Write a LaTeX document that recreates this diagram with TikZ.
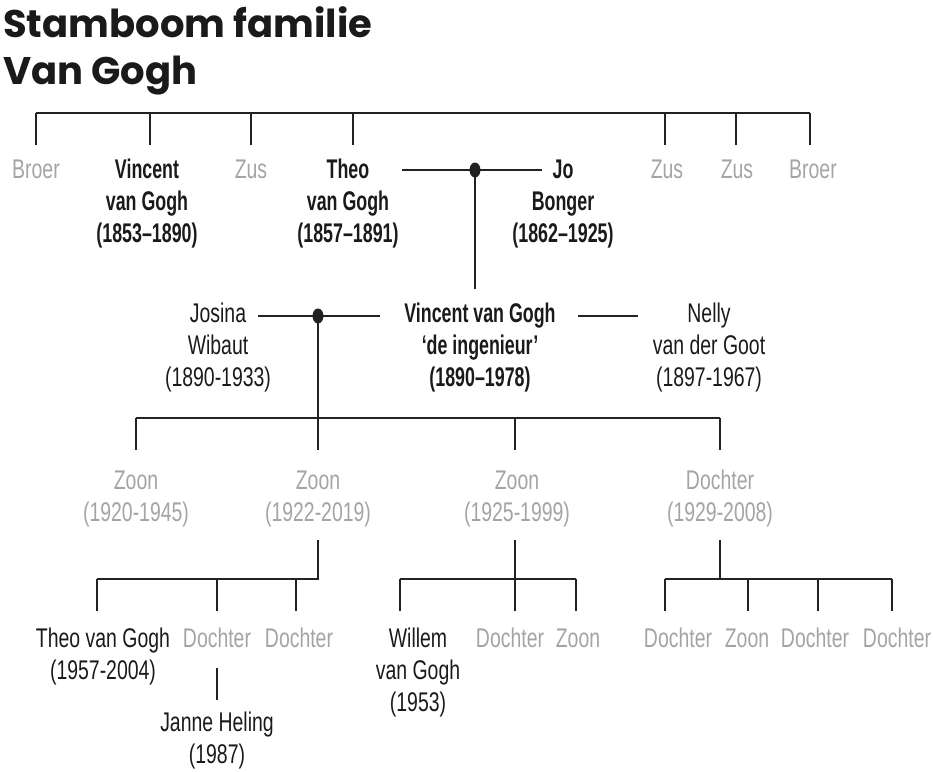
\documentclass[tikz,border=0pt]{standalone}
\usepackage{fontspec}
\newfontfamily\labf{Liberation Sans}[FakeStretch=0.72]
\newfontfamily\labbf{Liberation Sans}[FakeStretch=0.66]
\newfontfamily\titlef{Poppins}
\definecolor{ink}{HTML}{1A1A1A}
\definecolor{grey}{HTML}{A4A4A4}
\definecolor{linec}{HTML}{222222}
\tikzset{
  lbl/.style={font=\labf\fontsize{27}{32}\selectfont, align=center, inner sep=0pt, anchor=base, text=ink},
  gry/.style={lbl, text=grey},
  bld/.style={lbl, font=\labbf\bfseries\fontsize{27}{32}\selectfont},
  ttl/.style={font=\titlef\bfseries\fontsize{38.5}{48}\selectfont, inner sep=0pt, anchor=base west, text=ink, align=left},
  conn/.style={draw=linec, line width=1.8pt},
  knot/.style={fill=linec, draw=none}
}
\begin{document}
\begin{tikzpicture}[x=1pt,y=-1pt]
\useasboundingbox (0,0) rectangle (933,771);
% title (base anchor = baseline of the last line)
\node[ttl] (t1) at (3,37) {Stamboom familie};
\node[ttl] (t2) at (3,84) {Van Gogh};
% row 1 coordinates
\coordinate (tbL) at (36,113);
\coordinate (tbR) at (810,113);
\foreach \n/\x in {a/36,b/150,c/251,d/353,e/665,f/736,g/810}{
  \coordinate (top\n) at (\x,113);
  \coordinate (bot\n) at (\x,145);
}
\draw[conn] (tbL) -- (tbR);
\foreach \n in {a,b,c,d,e,f,g}{ \draw[conn] (top\n) -- (bot\n); }
% row 1 labels
\node[gry] (broer1) at (36,178) {Broer};
\node[bld] (vincent) at (147,242) {Vincent\\van Gogh\\(1853–1890)};
\node[gry] (zus1) at (251,178) {Zus};
\node[bld] (theo) at (348,242) {Theo\\van Gogh\\(1857–1891)};
\node[bld] (jo) at (563,242) {Jo\\Bonger\\(1862–1925)};
\node[gry] (zus2) at (667,178) {Zus};
\node[gry] (zus3) at (737,178) {Zus};
\node[gry] (broer2) at (813,178) {Broer};
% marriage Theo - Jo
\coordinate (m1L) at (402,170);
\coordinate (m1R) at (542,170);
\coordinate (m1) at (475,170);
\coordinate (m1D) at (475,289);
\draw[conn] (m1L) -- (m1R);
\draw[conn] (m1) -- (m1D);
\fill[knot] (m1) ellipse [x radius=5.5, y radius=7.5];
% row 2 labels
\node[lbl] (josina) at (218,386) {Josina\\Wibaut\\(1890-1933)};
\node[bld] (vincent2) at (480,386) {Vincent van Gogh\\‘de ingenieur’\\(1890–1978)};
\node[lbl] (nelly) at (709,386) {Nelly\\van der Goot\\(1897-1967)};
% marriages row 2
\coordinate (m2L) at (258,316);
\coordinate (m2R) at (380,316);
\coordinate (m2) at (318,316);
\coordinate (m3L) at (578,316);
\coordinate (m3R) at (638,316);
\draw[conn] (m2L) -- (m2R);
\draw[conn] (m3L) -- (m3R);
% children row 3
\coordinate (m2D) at (318,450);
\coordinate (cbL) at (136,418);
\coordinate (cbR) at (720,418);
\draw[conn] (m2) -- (m2D);
\draw[conn] (cbL) -- (cbR);
\foreach \n/\x in {a/136,c/515,d/720}{
  \coordinate (ct\n) at (\x,418);
  \coordinate (cb\n) at (\x,450);
  \draw[conn] (ct\n) -- (cb\n);
}
\fill[knot] (m2) ellipse [x radius=5.5, y radius=7.5];
\node[gry] (zoon1) at (136,521) {Zoon\\(1920-1945)};
\node[gry] (zoon2) at (318,521) {Zoon\\(1922-2019)};
\node[gry] (zoon3) at (517,521) {Zoon\\(1925-1999)};
\node[gry] (dochter1) at (720,521) {Dochter\\(1929-2008)};
% row 4 branch A
\coordinate (aT) at (318,540);
\coordinate (aC) at (318,579);
\coordinate (aL) at (97,579);
\draw[conn] (aT) -- (aC) -- (aL);
\foreach \n/\x in {1/97,2/217,3/296}{
  \coordinate (a\n t) at (\x,579);
  \coordinate (a\n b) at (\x,611);
  \draw[conn] (a\n t) -- (a\n b);
}
% branch B
\coordinate (bT) at (515,540);
\coordinate (bB) at (515,611);
\coordinate (bL) at (400,579);
\coordinate (bR) at (576,579);
\draw[conn] (bT) -- (bB);
\draw[conn] (bL) -- (bR);
\foreach \n/\x in {1/400,3/576}{
  \coordinate (b\n t) at (\x,579);
  \coordinate (b\n b) at (\x,611);
  \draw[conn] (b\n t) -- (b\n b);
}
% branch C
\coordinate (cT) at (720,540);
\coordinate (cC) at (720,579);
\coordinate (cL) at (665,579);
\coordinate (cR) at (892,579);
\draw[conn] (cT) -- (cC);
\draw[conn] (cL) -- (cR);
\foreach \n/\x in {1/665,2/748,3/818,4/892}{
  \coordinate (c\n t) at (\x,579);
  \coordinate (c\n b) at (\x,611);
  \draw[conn] (c\n t) -- (c\n b);
}
% row 4 labels
\node[lbl] (theo2) at (103,679) {Theo van Gogh\\(1957-2004)};
\node[gry] (d2) at (217,647) {Dochter};
\node[gry] (d3) at (299,647) {Dochter};
\node[lbl] (willem) at (418,711) {Willem\\van Gogh\\(1953)};
\node[gry] (d4) at (510,647) {Dochter};
\node[gry] (z4) at (578,647) {Zoon};
\node[gry] (d5) at (678,647) {Dochter};
\node[gry] (z5) at (747,647) {Zoon};
\node[gry] (d6) at (815,647) {Dochter};
\node[gry] (d7) at (897,647) {Dochter};
% Janne
\coordinate (jT) at (217,668);
\coordinate (jB) at (217,700);
\draw[conn] (jT) -- (jB);
\node[lbl] (janne) at (217,763) {Janne Heling\\(1987)};
\end{tikzpicture}
\end{document}
